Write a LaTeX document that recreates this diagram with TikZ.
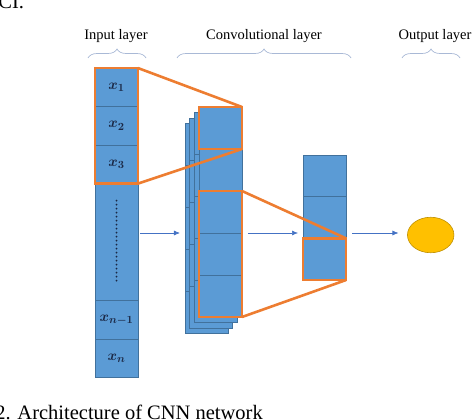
\documentclass[tikz,border=0pt]{standalone}
\usepackage{fontspec}
\setmainfont{Liberation Serif}
\usetikzlibrary{positioning,arrows.meta,shapes.geometric,decorations.pathreplacing}
\definecolor{cellblue}{HTML}{5B9BD5}
\definecolor{celledge}{HTML}{41719C}
\definecolor{winorange}{HTML}{ED7D31}
\definecolor{outyellow}{HTML}{FFC000}
\definecolor{outedge}{HTML}{BF9000}
\definecolor{flowblue}{HTML}{4472C4}
\definecolor{bracegray}{HTML}{A9B9D6}
\definecolor{labelnavy}{HTML}{1A2744}

\begin{document}
\begin{tikzpicture}[x=1pt,y=-1pt,every node/.style={outer sep=0pt,inner sep=0pt},
 cell/.style={draw=celledge,fill=cellblue,line width=0.6pt,minimum width=43pt,
 minimum height=38.5pt,text=labelnavy,font=\fontsize{15.5}{18}\selectfont\boldmath},
 convcell/.style={cell,minimum height=42pt},
 poolcell/.style={cell,minimum height=41.7pt},
 window/.style={draw=winorange,line width=2.6pt,line join=miter},
 flow/.style={draw=flowblue,line width=0.6pt,-{Latex[length=6pt,width=5pt]}},
 brc/.style={draw=bracegray,line width=0.7pt,decorate,decoration={brace,amplitude=9pt}},
 lbl/.style={font=\fontsize{14.5}{17}\selectfont,anchor=base},
 captext/.style={font=\fontsize{20.5}{24}\selectfont}]

\useasboundingbox (0,0) rectangle (474,420);

 % input layer
 \node[cell] (x1) at (116.5,87.3) {$x_1$};
 \node[cell,below=0pt of x1] (x2) {$x_2$};
 \node[cell,below=0pt of x2] (x3) {$x_3$};
 \node[cell,below=0pt of x3,minimum height=117pt] (dots) {};
 \node[cell,below=0pt of dots] (xn1) {$x_{n-1}$};
 \node[cell,below=0pt of xn1] (xn) {$x_n$};
 \draw[labelnavy,line width=2pt,line cap=round,dash pattern=on 0pt off 4pt] ([yshift=-17pt]dots.north) -- ([yshift=19pt]dots.south);

 % convolutional layer (feature maps behind)
 \foreach \s in {3,2,1}{
  \foreach \k in {1,...,5}
   \node[convcell] (s\s-\k) at (220.5-4.7*\s,86+42*\k+5.5*\s) {};
 }
 \node[convcell] (c1) at (220.5,128) {};
 \node[convcell,below=0pt of c1] (c2) {};
 \node[convcell,below=0pt of c2] (c3) {};
 \node[convcell,below=0pt of c3] (c4) {};
 \node[convcell,below=0pt of c4] (c5) {};

 % pooling column
 \node[poolcell] (p1) at (324.5,175.8) {};
 \node[poolcell,below=0pt of p1] (p2) {};
 \node[poolcell,below=0pt of p2] (p3) {};

 % output
 \node[ellipse,draw=outedge,fill=outyellow,line width=0.6pt,minimum width=46.5pt,minimum height=35.5pt] (out) at (430.7,235) {};

 \draw[flow] ([xshift=2pt]dots.east |- c3.south) -- ([xshift=-5pt]s3-1.west |- c3.south);
 \draw[flow] ([xshift=6pt]c3.south east) -- ([xshift=-5pt]p2.west |- c3.south);
 \draw[flow] ([xshift=6pt]p2.east |- c3.south) -- ([xshift=-9pt]out.west |- c3.south);

 % windows
 \draw[window] (x1.north west) rectangle (x3.south east);
 \draw[window] (c1.north west) rectangle (c1.south east);
 \draw[window] (c3.north west) rectangle (c5.south east);
 \draw[window] (p3.north west) rectangle (p3.south east);
 \draw[window] (x1.north east) -- (c1.north east);
 \draw[window] (x3.south east) -- (c1.south east);
 \draw[window] (c3.north east) -- (p3.north east);
 \draw[window] (c5.south east) -- (p3.south east);

 % layer names
 \draw[brc] (88,58) -- (146,58);
 \draw[brc] (177,58) -- (351,58);
 \draw[brc] (402,58) -- (460,58);
 \node[lbl] (lin) at (116,40) {Input layer};
 \node[lbl] (lconv) at (264,40) {Convolutional layer};
 \node[lbl] (lout) at (435,40) {Output layer};

 \node[captext,anchor=base east] (prev) at (24,9) {CI.};
 \node[captext,anchor=base west] (fig) at (-4.75,419) {2. Architecture of CNN network};

\end{tikzpicture}
\end{document}
